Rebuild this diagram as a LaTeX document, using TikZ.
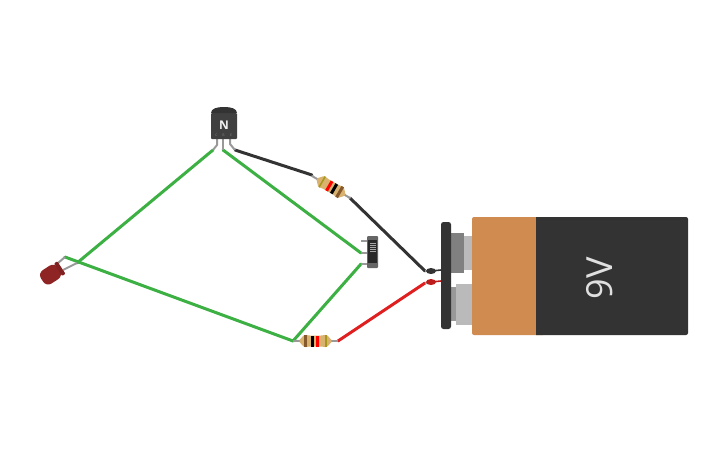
\documentclass[tikz,border=0pt]{standalone}
\usepackage{fontspec}
\setmainfont{Open Sans}
\usepackage{tikz}
\definecolor{wiregreen}{HTML}{3CB043}
\definecolor{wirered}{HTML}{E02020}
\definecolor{wireblack}{HTML}{333333}
\definecolor{leadgray}{HTML}{999999}
\definecolor{batorange}{HTML}{D08C50}
\definecolor{ledred}{HTML}{8E2424}
\definecolor{restan}{HTML}{D9B26F}
\tikzset{
  wire/.style={line width=3pt,line cap=round},
  lead/.style={line width=2pt,leadgray},
  resistor/.pic={
    \draw[lead] (-22.5,0) -- (22.5,0);
    \fill[restan,rounded corners=1.5pt] (-17,0) -- (-11,-6.5) -- (-7,-5.5) -- (7,-5.5) -- (11,-6.5) -- (17,0) -- (11,6.5) -- (7,5.5) -- (-7,5.5) -- (-11,6.5) -- cycle;
    \fill[brown!70!black] (-11.5,-6.2) rectangle (-8.5,6.2);
    \fill[black] (-5,-5.5) rectangle (-2,5.5);
    \fill[red] (0.5,-5.5) rectangle (3.5,5.5);
    \fill[olive!70!restan] (9.5,-6.2) rectangle (11,6.2);
  }
}
\begin{document}
\begin{tikzpicture}[x=1pt,y=-1pt]
\useasboundingbox (0,0) rectangle (725,453);
% end points of the wires
\coordinate (baseleg) at (213,150);
\coordinate (collegs) at (223,150);
\coordinate (emitleg) at (235,150);
\coordinate (ledup) at (65,257);
\coordinate (leddown) at (77,263);
\coordinate (swone) at (361,253);
\coordinate (swtwo) at (361,264);
\coordinate (restopa) at (312,175);
\coordinate (restopb) at (350,198);
\coordinate (resbota) at (293,341);
\coordinate (resbotb) at (338,341);
\coordinate (snapblack) at (425,271);
\coordinate (snapred) at (425,283);
% wires
\draw[wire,wiregreen] (baseleg) -- (leddown);
\draw[wire,wiregreen] (collegs) -- (swone);
\draw[wire,wiregreen] (ledup) -- (resbota);
\draw[wire,wiregreen] (swtwo) -- (resbota);
\draw[wire,wireblack] (emitleg) -- (restopa);
\draw[wire,wireblack] (restopb) -- (snapblack);
\draw[wire,wirered] (resbotb) -- (snapred);
% transistor
\draw[lead] (217,138) -- (217,145) -- (213,150);
\draw[lead] (223,138) -- (223,150);
\draw[lead] (230,138) -- (230,144) -- (235,150);
\fill[black!75,rounded corners=1pt] (211,113) -- (237,113) -- (237,139) -- (211,139) -- cycle;
\fill[wireblack] (211,113) .. controls (211,108.5) and (217,107) .. (224,107) .. controls (231,107) and (237,108.5) .. (237,113) -- cycle;
\path (224,125) node(transistor) [text=black!5,font=\bfseries\fontsize{12}{12}\selectfont]{N};
\path (216.5,135) node(pinc) [text=black!50,font=\fontsize{3.5}{4}\selectfont]{C};
\path (223.5,135) node(pinb) [text=black!50,font=\fontsize{3.5}{4}\selectfont]{B};
\path (231,135) node(pine) [text=black!50,font=\fontsize{3.5}{4}\selectfont]{E};
% led
\draw[lead] (58,263) -- (ledup);
\draw[lead] (63,270) -- (leddown);
\fill[ledred,rotate around={33:(53,273)},rounded corners=6pt] (40,265) rectangle (60,281);
\fill[ledred!90!black,rotate around={33:(53,273)},rounded corners=1pt] (59,265.5) rectangle (63,280.5);
% switch
\draw[lead] (361,241) -- (367,241);
\draw[lead] (swone) -- (367,253);
\draw[lead] (swtwo) -- (367,264);
\fill[black!60,rounded corners=1pt] (367,236) rectangle (378,268);
\fill[wireblack!80!black] (368,240) rectangle (377,263);
\foreach \y in {243,245,...,251} \draw[black!35,line width=1pt] (370,\y) -- (376,\y);
% resistors
\path (331,187) pic[rotate=150] {resistor};
\path (315.5,341) pic {resistor};
% battery
\fill[black!50] (451,233) rectangle (464,273);
\fill[black!27] (464,236) rectangle (472,270);
\fill[black!40] (451,287) rectangle (456,321);
\fill[black!27] (456,284) rectangle (472,325);
\fill[batorange,rounded corners=2pt] (472,217) rectangle (545,335);
\fill[wireblack] (536,217) [rounded corners=2pt] -- (688,217) -- (688,335) [sharp corners] -- (536,335) -- cycle;
\fill[wireblack,rounded corners=2.5pt] (441,222) rectangle (451,329);
\draw[lead] (snapblack) -- (430,271);
\draw[lead] (snapred) -- (430,282);
\draw[wireblack,line width=1.6pt] (431,271) -- (441,270);
\draw[wirered!85!black,line width=1.6pt] (431,282) -- (441,281);
\fill[wireblack] (431,271) ellipse (5 and 3);
\fill[wirered!85!black] (431,282) ellipse (5 and 3);
\path (600,278) node(batterylabel) [rotate=90,text=black!12,font=\fontsize{36}{36}\selectfont]{9V};
\end{tikzpicture}
\end{document}
